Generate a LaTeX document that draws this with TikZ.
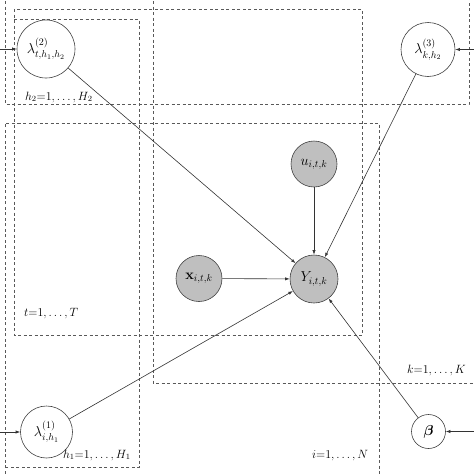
\documentclass[tikz,border=0pt]{standalone}
\usepackage{amsmath}
\usetikzlibrary{arrows.meta}
\begin{document}
\begin{tikzpicture}[x=1pt,y=-1pt,
  plate/.style={draw=black!65, line width=0.6pt, dash pattern=on 3pt off 2.5pt},
  var/.style={circle, draw=black!75, line width=0.6pt, inner sep=0pt, font=\fontsize{14}{16}\selectfont},
  obs/.style={var, fill=black!25},
  edge/.style={draw=black!80, line width=0.6pt, -{Latex[length=4.5pt,width=3.2pt]}},
  platelabel/.style={inner sep=0pt, anchor=base west, font=\fontsize{12}{14}\selectfont}]
\useasboundingbox (0,0) rectangle (474,474);
\clip (0,0) rectangle (474,474);
% plates
\draw[plate] (5,-10) rectangle (469,104);   % h2
\draw[plate] (14,9) rectangle (362,335);    % t
\draw[plate] (14,19) -- (139,19) -- (139,467) -- (5,467); % h1
\draw[plate] (5,490) |- (379,123) -- (379,490); % i
\draw[plate] (153,-10) rectangle (490,383); % k
% nodes
\node[var, minimum size=58pt] (l2) at (46,49) {$\lambda^{(2)}_{t,h_1,h_2}$};
\node[var, minimum size=54pt] (l3) at (428,49.5) {$\lambda^{(3)}_{k,h_2}$};
\node[obs, minimum size=46pt] (u) at (314,164) {$u_{i,t,k}$};
\node[obs, minimum size=46pt] (x) at (199,278.5) {$\mathbf{x}_{i,t,k}$};
\node[obs, minimum size=48pt] (y) at (314,279) {$Y_{i,t,k}$};
\node[var, minimum size=52pt] (l1) at (46.5,432) {$\lambda^{(1)}_{i,h_1}$};
\node[var, minimum size=34pt] (b) at (428.5,431.5) {$\boldsymbol{\beta}$};
\coordinate (inl2) at (0,49);
\coordinate (inl1) at (0,432);
\coordinate (inl3) at (474,49.5);
\coordinate (inb) at (474,431.5);
% labels
\node[platelabel] (lh2) at (25,100) {$h_2{=}1,\ldots,H_2$};
\node[platelabel] (lt) at (24,316) {$t{=}1,\ldots,T$};
\node[platelabel] (lh1) at (63,458) {$h_1{=}1,\ldots,H_1$};
\node[platelabel] (li) at (312,458) {$i{=}1,\ldots,N$};
\node[platelabel] (lk) at (407,373) {$k{=}1,\ldots,K$};
% edges
\draw[edge] (l2) -- (y);
\draw[edge] (l3) -- (y);
\draw[edge] (u) -- (y);
\draw[edge] (x) -- (y);
\draw[edge] (l1) -- (y);
\draw[edge] (b) -- (y);
\draw[edge] (inl2) -- (l2);
\draw[edge] (inl1) -- (l1);
\draw[edge] (inl3) -- (l3);
\draw[edge] (inb) -- (b);
\end{tikzpicture}
\end{document}
